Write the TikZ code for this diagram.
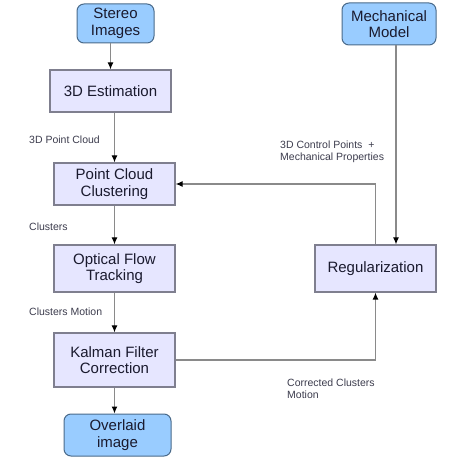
\documentclass[tikz,border=0pt]{standalone}
\usepackage{fontspec}
\setmainfont{Liberation Sans}
\usetikzlibrary{arrows.meta}

\definecolor{srcfill}{HTML}{99CCFF}
\definecolor{srcdraw}{HTML}{4A6A8A}
\definecolor{stepfill}{HTML}{E6E6FF}
\definecolor{stepdraw}{HTML}{7F7F8F}
\definecolor{wire}{HTML}{8A8A8A}
\definecolor{ink}{HTML}{1A1A2E}

\tikzset{
  stepbox/.style={draw=stepdraw, fill=stepfill, line width=1.2pt, text=ink,
    font=\fontsize{15}{16.5}\selectfont, align=center, inner sep=0pt,
    minimum width=121pt},
  srcbox/.style={draw=srcdraw, fill=srcfill, line width=1pt, rounded corners=7pt,
    text=ink, font=\fontsize{15}{16.5}\selectfont, align=center, inner sep=0pt},
  flowlabel/.style={anchor=west, inner sep=0pt, text=ink!85,
    font=\fontsize{10.5}{12}\selectfont, align=left},
  arr/.style={draw=wire, line width=1.2pt, -{Latex[length=7pt,width=6pt,black]}},
}

\begin{document}
\begin{tikzpicture}[x=1pt,y=-1pt]
  \useasboundingbox (0,0) rectangle (474,462);

  \node[srcbox, minimum width=77pt, minimum height=39pt] (stereo) at (115.5,23.5) {Stereo\\Images};
  \node[stepbox, minimum height=42pt] (est) at (110.5,91) {3D Estimation};
  \node[stepbox, minimum height=42pt] (pcc) at (114.5,184) {Point Cloud\\Clustering};
  \node[stepbox, minimum height=47pt] (oft) at (114.5,268.5) {Optical Flow\\Tracking};
  \node[stepbox, minimum height=54pt] (kal) at (114.5,360) {Kalman Filter\\Correction};
  \node[srcbox, minimum width=107pt, minimum height=42pt] (over) at (117.5,435) {Overlaid\\image};
  \node[stepbox, minimum height=47pt] (reg) at (375.5,268.5) {Regularization};
  \node[srcbox, minimum width=94pt, minimum height=42pt] (mech) at (389,24) {Mechanical\\Model};

  \node[flowlabel] (lcloud) at (29,140) {3D Point Cloud};
  \node[flowlabel] (lclus) at (29,227) {Clusters};
  \node[flowlabel] (lmotion) at (29,312) {Clusters Motion};
  \node[flowlabel] (lctrl) at (280,152) {3D Control Points\ \ +\\Mechanical Properties};
  \node[flowlabel] (lcorr) at (287,389) {Corrected Clusters\\Motion};

  \draw[arr] (stereo.south -| est.north) -- (est.north);
  \draw[arr] (est.south -| pcc.north) -- (pcc.north);
  \draw[arr] (pcc) -- (oft);
  \draw[arr] (oft) -- (kal);
  \draw[arr] (kal.south) -- (kal.south |- over.north);
  \draw[arr] (kal.east) -| (reg.south);
  \draw[arr] (reg.north) |- (pcc.east);
  \draw[arr] ([xshift=7pt]mech.south) -- ([xshift=20.5pt]reg.north);
\end{tikzpicture}
\end{document}
